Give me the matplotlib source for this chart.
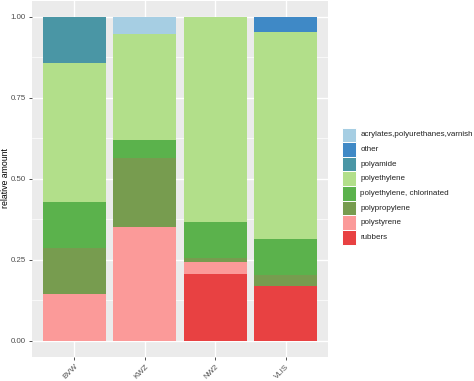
import matplotlib
matplotlib.use("Agg")
import matplotlib.pyplot as plt
from matplotlib.patches import Rectangle
import numpy as np

plt.rcParams['font.family'] = ['Liberation Sans', 'DejaVu Sans']

sites = ["BVW", "KWZ", "NW2", "VLIS"]
materials = ["acrylates,polyurethanes,varnish", "other", "polyamide", "polyethylene",
             "polyethylene, chlorinated", "polypropylene", "polystyrene", "rubbers"]
colors = ["#a6cee3", "#3f89c6", "#4a96a5", "#b2df8a", "#5bb24c", "#779c4f", "#fb9a99", "#e84142"]

acrylates = [0.0, 0.053, 0.0, 0.0]
other = [0.0, 0.0, 0.0, 0.048]
polyamide = [0.143, 0.0, 0.0, 0.0]
polyethylene = [0.428, 0.329, 0.634, 0.637]
polyethylene_cl = [0.143, 0.055, 0.112, 0.112]
polypropylene = [0.143, 0.214, 0.013, 0.034]
polystyrene = [0.143, 0.349, 0.036, 0.0]
rubbers = [0.0, 0.0, 0.205, 0.169]

series = [acrylates, other, polyamide, polyethylene, polyethylene_cl,
          polypropylene, polystyrene, rubbers]

W, H = 474, 381
fig = plt.figure(figsize=(W / 100, H / 100), dpi=100)
ax = fig.add_axes([32 / W, (H - 356.7) / H, 296 / W, 356.2 / H])
ax.set_facecolor("#ebebeb")

x = np.arange(1, len(sites) + 1)
bottom = np.zeros(len(sites))
# stack from bottom: last factor level at bottom
for name, vals, col in reversed(list(zip(materials, series, colors))):
    v = np.array(vals)
    ax.bar(x, v, bottom=bottom, width=0.9, color=col, edgecolor="none", zorder=3)
    bottom += v

ax.set_xlim(0.4, 4.6)
ax.set_ylim(-0.05, 1.05)
ax.set_xticks(x)
ax.set_xticklabels(sites, rotation=45, ha="right", va="top", rotation_mode="anchor")
ax.set_yticks([0, 0.25, 0.5, 0.75, 1.0])
ax.set_yticklabels(["0.00", "0.25", "0.50", "0.75", "1.00"])
ax.set_yticks([0.125, 0.375, 0.625, 0.875], minor=True)
ax.grid(True, which="major", color="white", linewidth=1.0, zorder=0)
ax.grid(True, which="minor", axis="y", color="white", linewidth=0.5, zorder=0)
ax.set_axisbelow(True)
for s in ax.spines.values():
    s.set_visible(False)
ax.tick_params(axis="both", which="major", length=2.5, width=0.6, color="#333333",
               labelsize=5.7, labelcolor="#4d4d4d", pad=2)
ax.tick_params(axis="both", which="minor", length=0)

fig.text(6.0 / W, 1 - 178.0 / H, "relative amount", fontsize=6.3, color="black",
         rotation=90, ha="center", va="center")

# legend drawn in figure pixel coordinates (ggplot-style keys)
key_x0, key_w = 342.0, 14.0
key_y0, key_h = 127.5, 14.65
for i, (name, col) in enumerate(zip(materials, colors)):
    top = key_y0 + i * key_h
    fig.patches.append(Rectangle((key_x0 / W, 1 - (top + key_h) / H), key_w / W, key_h / H,
                                 transform=fig.transFigure, facecolor=col,
                                 edgecolor="white", linewidth=0.7))
    fig.text(360.5 / W, 1 - (top + key_h / 2) / H, name, fontsize=5.8,
             color="#222222", ha="left", va="center")

fig.savefig("out.png", dpi=100)
